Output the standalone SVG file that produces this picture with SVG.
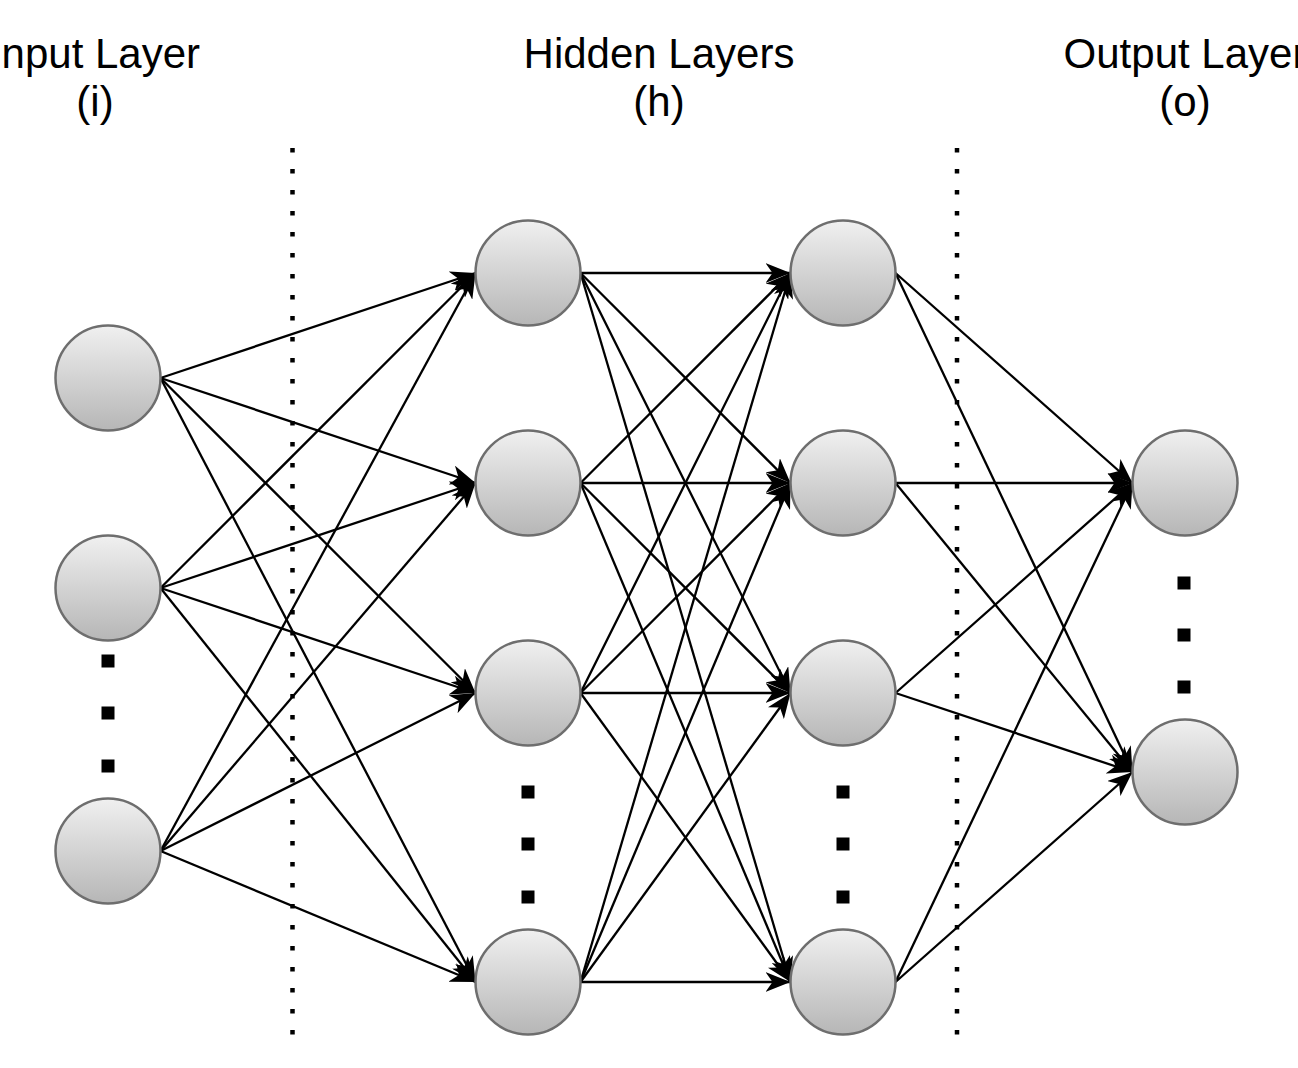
<svg xmlns="http://www.w3.org/2000/svg" width="1298" height="1068" viewBox="0 0 1298 1068">
<style>
.lbl{font-family:"Liberation Sans",Arial,sans-serif;font-size:42px;fill:#000;text-anchor:middle}
.node{fill:url(#g);stroke:#6e6e6e;stroke-width:2.5}
.edge{stroke:#000;stroke-width:2.3;fill:none;marker-end:url(#arr)}
.sep{stroke:#000;stroke-width:4.5;stroke-dasharray:4.5 16.5;fill:none}
.dot{fill:#000}
</style>
<defs>
<linearGradient id="g" x1="0" y1="0" x2="0" y2="1">
<stop offset="0" stop-color="#f0f0f0"/>
<stop offset="1" stop-color="#b6b6b6"/>
</linearGradient>
<marker id="arr" markerUnits="userSpaceOnUse" markerWidth="26" markerHeight="20" viewBox="0 0 26 20" refX="25" refY="10" orient="auto">
<path d="M0,0 L25,10 L0,20 L7,10 Z" fill="#000"/>
</marker>
</defs>
<rect width="1298" height="1068" fill="#fff"/>
<g id="labels">
<text class="lbl" x="95" y="68">Input Layer</text>
<text class="lbl" x="95" y="116">(i)</text>
<text class="lbl" x="659" y="68">Hidden Layers</text>
<text class="lbl" x="659" y="116">(h)</text>
<text class="lbl" x="1185" y="68">Output Layer</text>
<text class="lbl" x="1185" y="116">(o)</text>
</g>
<g id="separators">
<line class="sep" x1="292.5" y1="148" x2="292.5" y2="1038"/>
<line class="sep" x1="957" y1="148" x2="957" y2="1038"/>
</g>
<g id="connectors">
<line class="edge" x1="160.5" y1="378" x2="475.5" y2="273"/>
<line class="edge" x1="160.5" y1="378" x2="475.5" y2="483"/>
<line class="edge" x1="160.5" y1="378" x2="475.5" y2="693"/>
<line class="edge" x1="160.5" y1="378" x2="475.5" y2="982"/>
<line class="edge" x1="160.5" y1="588" x2="475.5" y2="273"/>
<line class="edge" x1="160.5" y1="588" x2="475.5" y2="483"/>
<line class="edge" x1="160.5" y1="588" x2="475.5" y2="693"/>
<line class="edge" x1="160.5" y1="588" x2="475.5" y2="982"/>
<line class="edge" x1="160.5" y1="851" x2="475.5" y2="273"/>
<line class="edge" x1="160.5" y1="851" x2="475.5" y2="483"/>
<line class="edge" x1="160.5" y1="851" x2="475.5" y2="693"/>
<line class="edge" x1="160.5" y1="851" x2="475.5" y2="982"/>
<line class="edge" x1="580.5" y1="273" x2="790.5" y2="273"/>
<line class="edge" x1="580.5" y1="273" x2="790.5" y2="483"/>
<line class="edge" x1="580.5" y1="273" x2="790.5" y2="693"/>
<line class="edge" x1="580.5" y1="273" x2="790.5" y2="982"/>
<line class="edge" x1="580.5" y1="483" x2="790.5" y2="273"/>
<line class="edge" x1="580.5" y1="483" x2="790.5" y2="483"/>
<line class="edge" x1="580.5" y1="483" x2="790.5" y2="693"/>
<line class="edge" x1="580.5" y1="483" x2="790.5" y2="982"/>
<line class="edge" x1="580.5" y1="693" x2="790.5" y2="273"/>
<line class="edge" x1="580.5" y1="693" x2="790.5" y2="483"/>
<line class="edge" x1="580.5" y1="693" x2="790.5" y2="693"/>
<line class="edge" x1="580.5" y1="693" x2="790.5" y2="982"/>
<line class="edge" x1="580.5" y1="982" x2="790.5" y2="273"/>
<line class="edge" x1="580.5" y1="982" x2="790.5" y2="483"/>
<line class="edge" x1="580.5" y1="982" x2="790.5" y2="693"/>
<line class="edge" x1="580.5" y1="982" x2="790.5" y2="982"/>
<line class="edge" x1="895.5" y1="273" x2="1132.5" y2="483"/>
<line class="edge" x1="895.5" y1="273" x2="1132.5" y2="772"/>
<line class="edge" x1="895.5" y1="483" x2="1132.5" y2="483"/>
<line class="edge" x1="895.5" y1="483" x2="1132.5" y2="772"/>
<line class="edge" x1="895.5" y1="693" x2="1132.5" y2="483"/>
<line class="edge" x1="895.5" y1="693" x2="1132.5" y2="772"/>
<line class="edge" x1="895.5" y1="982" x2="1132.5" y2="483"/>
<line class="edge" x1="895.5" y1="982" x2="1132.5" y2="772"/>
</g>
<g id="i1"><circle class="node" cx="108" cy="378" r="52.5"/></g>
<g id="i2"><circle class="node" cx="108" cy="588" r="52.5"/></g>
<g id="i3"><circle class="node" cx="108" cy="851" r="52.5"/></g>
<g id="h1a"><circle class="node" cx="528" cy="273" r="52.5"/></g>
<g id="h1b"><circle class="node" cx="528" cy="483" r="52.5"/></g>
<g id="h1c"><circle class="node" cx="528" cy="693" r="52.5"/></g>
<g id="h1d"><circle class="node" cx="528" cy="982" r="52.5"/></g>
<g id="h2a"><circle class="node" cx="843" cy="273" r="52.5"/></g>
<g id="h2b"><circle class="node" cx="843" cy="483" r="52.5"/></g>
<g id="h2c"><circle class="node" cx="843" cy="693" r="52.5"/></g>
<g id="h2d"><circle class="node" cx="843" cy="982" r="52.5"/></g>
<g id="o1"><circle class="node" cx="1185" cy="483" r="52.5"/></g>
<g id="o2"><circle class="node" cx="1185" cy="772" r="52.5"/></g>
<g id="ellipses">
<rect class="dot" x="101.5" y="654.5" width="13" height="13"/>
<rect class="dot" x="101.5" y="706.5" width="13" height="13"/>
<rect class="dot" x="101.5" y="759.5" width="13" height="13"/>
<rect class="dot" x="521.5" y="785.5" width="13" height="13"/>
<rect class="dot" x="521.5" y="837.5" width="13" height="13"/>
<rect class="dot" x="521.5" y="890.5" width="13" height="13"/>
<rect class="dot" x="836.5" y="785.5" width="13" height="13"/>
<rect class="dot" x="836.5" y="837.5" width="13" height="13"/>
<rect class="dot" x="836.5" y="890.5" width="13" height="13"/>
<rect class="dot" x="1177.5" y="576.5" width="13" height="13"/>
<rect class="dot" x="1177.5" y="628.5" width="13" height="13"/>
<rect class="dot" x="1177.5" y="680.5" width="13" height="13"/>
</g>
</svg>
